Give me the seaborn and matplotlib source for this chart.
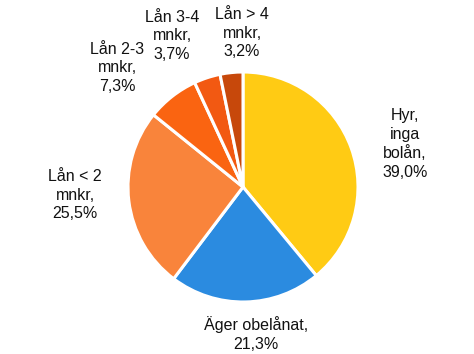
import matplotlib
matplotlib.use("Agg")
import matplotlib.pyplot as plt
import seaborn as sns

sns.set_theme(style="white")
plt.rcParams['font.family'] = ['Liberation Sans', 'DejaVu Sans']

categories = ["Hyr,\ninga\nbolån", "Äger obelånat", "Lån < 2\nmnkr", "Lån 2-3\nmnkr", "Lån 3-4\nmnkr", "Lån > 4\nmnkr"]
values = [39.0, 21.3, 25.5, 7.3, 3.7, 3.2]
value_labels = ["39,0%", "21,3%", "25,5%", "7,3%", "3,7%", "3,2%"]
colors = ["#FFCB14", "#2B8BE0", "#F9843B", "#FA6411", "#F25912", "#C7480B"]
# label centres in pixels (x, y from top)
label_pos = [(405, 144), (256, 334), (75, 195), (117, 68), (172, 36), (242, 33)]

W, H = 474, 354
cx, cy, R = 243, 187, 115

fig = plt.figure(figsize=(W / 100, H / 100), dpi=100)
ax = fig.add_axes([0, 0, 1, 1])
ax.pie(values, colors=colors, startangle=90, counterclock=False,
       wedgeprops=dict(edgecolor="white", linewidth=2.2))
ax.set_xlim(-cx / R, (W - cx) / R)
ax.set_ylim(-(H - cy) / R, cy / R)
ax.set_aspect("auto")
ax.axis("off")

for cat, vl, (px, py) in zip(categories, value_labels, label_pos):
    txt = cat + ",\n" + vl
    fig.text(px / W, 1 - py / H, txt, ha="center", va="center",
             fontsize=11.5, color="#111111", linespacing=1.3)

fig.savefig("out.png", dpi=100)
